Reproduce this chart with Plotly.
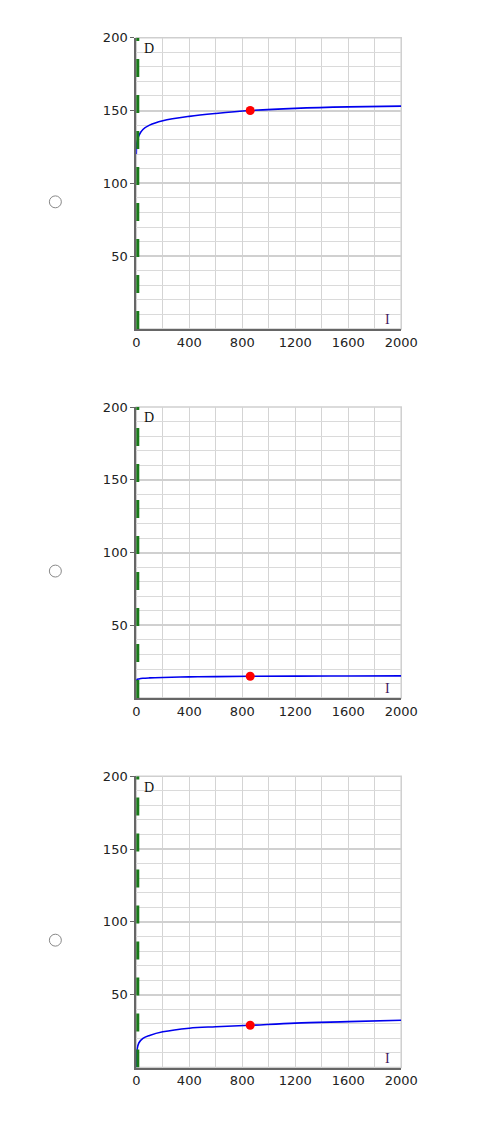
import plotly.graph_objects as go

# curve samples (I, D)
i_vals = [0, 5, 20, 50, 100, 200, 400, 600, 860, 1200, 1600, 2000]
d_top = [120, 128, 133, 137, 140, 143, 146, 148, 150, 151.5, 152.5, 153]
d_mid = [12, 12.8, 13.2, 13.6, 13.9, 14.2, 14.6, 14.8, 15, 15.1, 15.2, 15.3]
d_bot = [0, 12, 17, 20, 22, 24.5, 27, 28, 29, 30.5, 31.5, 32.5]
point_i = 860
point_d = [150, 15, 29]

x_ticks = [0, 400, 800, 1200, 1600, 2000]
y_ticks = [50, 100, 150, 200]

panels = [d_top, d_mid, d_bot]
domains = [[0.7224, 0.9799], [0.3960, 0.6534], [0.0694, 0.3269]]
radio_y = [188.0, 559.5, 930.9]

fig = go.Figure()
layout = dict(
    width=502, height=1138,
    margin={"l": 0, "r": 0, "t": 0, "b": 0},
    paper_bgcolor="white", plot_bgcolor="white",
    showlegend=False,
    font={"family": "DejaVu Sans", "size": 13, "color": "#222"},
    shapes=[], annotations=[],
)

for k, (curve, dom) in enumerate(zip(panels, domains)):
    n = "" if k == 0 else str(k + 1)
    xa, ya = "x" + n, "y" + n
    fig.add_trace(go.Scatter(x=i_vals, y=curve, xaxis=xa, yaxis=ya, mode="lines",
                             line={"color": "#0000ee", "width": 1.6, "shape": "spline"}))
    # green dashed marker along I = 0
    fig.add_trace(go.Scatter(x=[0, 0], y=[0, 200], xaxis=xa, yaxis=ya, mode="lines",
                             line={"color": "#1a7a1a", "width": 6, "dash": "dash"}, hoverinfo="skip"))
    fig.add_trace(go.Scatter(x=[point_i], y=[point_d[k]], xaxis=xa, yaxis=ya, mode="markers",
                             marker={"color": "red", "size": 9}))
    layout["xaxis" + n] = dict(
        domain=[0.2584, 0.8092], range=[0, 2000], anchor=ya, layer="below traces",
        tickvals=x_ticks, ticks="", showgrid=True, gridcolor="#d4d4d4", gridwidth=1.2,
        minor={"dtick": 200, "showgrid": True, "gridcolor": "#d4d4d4", "gridwidth": 1.2},
        showline=True, linecolor="#666", linewidth=2, zeroline=False,
    )
    layout["yaxis" + n] = dict(
        domain=dom, range=[0, 200], anchor=xa, layer="below traces",
        tickvals=y_ticks, ticks="outside", ticklen=4, tickcolor="#666",
        showgrid=True, gridcolor="#d0d0d0", gridwidth=1.6,
        minor={"dtick": 10, "showgrid": True, "gridcolor": "#dadada", "gridwidth": 1},
        showline=True, linecolor="#666", linewidth=2, zeroline=False,
    )
    layout["shapes"].append(dict(type="rect", xref=xa + " domain", yref=ya + " domain",
                                 x0=0, x1=1, y0=0, y1=1, layer="below",
                                 line={"color": "#cfcfcf", "width": 1.5}))
    cy = 1 - radio_y[k] / 1138
    layout["shapes"].append(dict(type="circle", xref="paper", yref="paper",
                                 x0=39 / 502, x1=51.5 / 502, y0=cy - 6 / 1138, y1=cy + 6 / 1138,
                                 line={"color": "#888", "width": 1}, fillcolor="white"))
    layout["annotations"].append(dict(text="D", xref=xa + " domain", yref=ya + " domain",
                                      x=0.02, y=0.995, xanchor="left", yanchor="top", showarrow=False,
                                      font={"family": "Liberation Serif", "size": 14, "color": "#111"}))
    layout["annotations"].append(dict(text="I", xref=xa + " domain", yref=ya + " domain",
                                      x=0.965, y=0.0, xanchor="right", yanchor="bottom", showarrow=False,
                                      font={"family": "Liberation Serif", "size": 14, "color": "#402060"}))

fig.update_layout(**layout)
fig.write_html("out.html")
